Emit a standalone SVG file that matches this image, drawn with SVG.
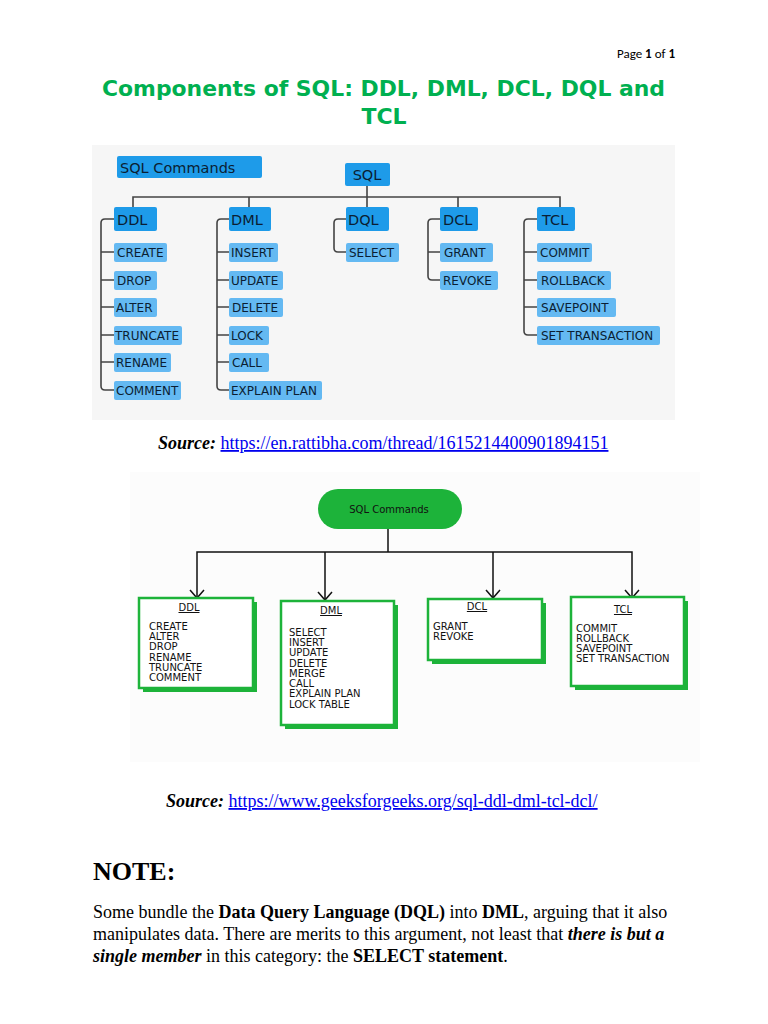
<svg xmlns="http://www.w3.org/2000/svg" width="768" height="1024" viewBox="0 0 768 1024">
<style>
.t{font-family:"DejaVu Sans",sans-serif;font-weight:bold;fill:#00b050;font-size:22px}
.ser{font-family:"Liberation Serif",serif;font-size:18px;fill:#000}
.lk{fill:#0000ee;text-decoration:underline}
.pb{fill:#1e9be9}
.cb{fill:#64b9f2}
.lb{font-family:"DejaVu Sans",sans-serif;font-size:12px;fill:#0b1e33}
.hb{font-family:"DejaVu Sans",sans-serif;font-size:14.5px;fill:#0b1e33}
.cn{fill:none;stroke:#444;stroke-width:1.6}
.gb{fill:#fff;stroke:#1db33a;stroke-width:2.5}
.gs{fill:#1db33a}
.gt{font-family:"DejaVu Sans",sans-serif;font-size:10px;fill:#111}
.ar{fill:none;stroke:#111;stroke-width:1.5}
</style>
<rect width="768" height="1024" fill="#fff"/>
<text x="675" y="58" text-anchor="end" font-family="Carlito,'Liberation Sans',sans-serif" font-size="13">Page <tspan font-weight="bold">1</tspan> of <tspan font-weight="bold">1</tspan></text>
<text class="t" x="102" y="96" textLength="563" lengthAdjust="spacingAndGlyphs">Components of SQL: DDL, DML, DCL, DQL and</text>
<text class="t" x="384" y="124" text-anchor="middle">TCL</text>

<rect x="92" y="145" width="583" height="275" fill="#f6f6f6"/>
<g id="conn1">
<path class="cn" d="M367 186V207M133 207V197H560V207M249 197V207M458 197V207"/>
<path class="cn" d="M114 219H105Q101 219 101 223V386Q101 390 105 390H114M101 252H114M101 280H114M101 307H114M101 335H114M101 362H114"/>
<path class="cn" d="M229 219H221Q217 219 217 223V386Q217 390 221 390H229M217 252H229M217 280H229M217 307H229M217 335H229M217 362H229"/>
<path class="cn" d="M346 219H338Q334 219 334 223V248Q334 252 338 252H346"/>
<path class="cn" d="M440 219H432Q428 219 428 223V276Q428 280 432 280H440M428 252H440"/>
<path class="cn" d="M537 219H528Q524 219 524 223V331Q524 335 528 335H537M524 252H537M524 280H537M524 307H537"/>
</g>
<g id="title1"><rect class="pb" x="117" y="156" width="145" height="22" rx="2"/><text class="hb" x="120" y="173" font-size="17">SQL Commands</text></g>
<g id="sql"><rect class="pb" x="345" y="163" width="45" height="23" rx="2"/><text class="hb" x="367" y="180" text-anchor="middle">SQL</text></g>
<g id="ddl"><rect class="pb" x="114" y="207" width="43" height="24" rx="2"/><text class="hb" x="117" y="225">DDL</text></g>
<g id="dml"><rect class="pb" x="229" y="207" width="42" height="24" rx="2"/><text class="hb" x="231" y="225">DML</text></g>
<g id="dql"><rect class="pb" x="346" y="207" width="43" height="24" rx="2"/><text class="hb" x="348" y="225">DQL</text></g>
<g id="dcl"><rect class="pb" x="440" y="207" width="38" height="24" rx="2"/><text class="hb" x="443" y="225">DCL</text></g>
<g id="tcl"><rect class="pb" x="537" y="207" width="38" height="24" rx="2"/><text class="hb" x="542" y="225">TCL</text></g>
<g id="ddl-items">
<rect class="cb" x="114" y="243" width="53" height="19" rx="2"/><text class="lb" x="117" y="257">CREATE</text>
<rect class="cb" x="114" y="271" width="43" height="19" rx="2"/><text class="lb" x="117" y="285">DROP</text>
<rect class="cb" x="114" y="298" width="43" height="19" rx="2"/><text class="lb" x="116" y="312">ALTER</text>
<rect class="cb" x="114" y="326" width="68" height="19" rx="2"/><text class="lb" x="115" y="340">TRUNCATE</text>
<rect class="cb" x="114" y="353" width="57" height="19" rx="2"/><text class="lb" x="116" y="367">RENAME</text>
<rect class="cb" x="114" y="381" width="67" height="19" rx="2"/><text class="lb" x="116" y="395">COMMENT</text>
</g>
<g id="dml-items">
<rect class="cb" x="229" y="243" width="49" height="19" rx="2"/><text class="lb" x="231" y="257">INSERT</text>
<rect class="cb" x="229" y="271" width="54" height="19" rx="2"/><text class="lb" x="231" y="285">UPDATE</text>
<rect class="cb" x="229" y="298" width="54" height="19" rx="2"/><text class="lb" x="232" y="312">DELETE</text>
<rect class="cb" x="229" y="326" width="40" height="19" rx="2"/><text class="lb" x="231" y="340">LOCK</text>
<rect class="cb" x="229" y="353" width="40" height="19" rx="2"/><text class="lb" x="232" y="367">CALL</text>
<rect class="cb" x="229" y="381" width="93" height="19" rx="2"/><text class="lb" x="231" y="395">EXPLAIN PLAN</text>
</g>
<g id="dql-items"><rect class="cb" x="346" y="243" width="53" height="19" rx="2"/><text class="lb" x="349" y="257">SELECT</text></g>
<g id="dcl-items">
<rect class="cb" x="440" y="243" width="53" height="19" rx="2"/><text class="lb" x="444" y="257">GRANT</text>
<rect class="cb" x="440" y="271" width="58" height="19" rx="2"/><text class="lb" x="443" y="285">REVOKE</text>
</g>
<g id="tcl-items">
<rect class="cb" x="537" y="243" width="55" height="19" rx="2"/><text class="lb" x="540" y="257">COMMIT</text>
<rect class="cb" x="537" y="271" width="74" height="19" rx="2"/><text class="lb" x="541" y="285">ROLLBACK</text>
<rect class="cb" x="537" y="298" width="79" height="19" rx="2"/><text class="lb" x="541" y="312">SAVEPOINT</text>
<rect class="cb" x="537" y="326" width="123" height="19" rx="2"/><text class="lb" x="541" y="340">SET TRANSACTION</text>
</g>

<text class="ser" x="158" y="449"><tspan font-weight="bold" font-style="italic">Source:</tspan> <tspan class="lk">https://en.rattibha.com/thread/1615214400901894151</tspan></text>

<rect x="130" y="472" width="570" height="290" fill="#fcfcfc"/>
<g id="conn2">
<path class="ar" d="M388 529V552M197 598V552H632V598M325 552V600M493 552V598"/>
<path class="ar" d="M190 590L197 598L204 590M318 592L325 600L332 592M486 590L493 598L500 590M625 590L632 598L639 590"/>
</g>
<g id="root2"><rect x="318" y="489" width="144" height="40" rx="20" fill="#1db33a"/><text class="gt" font-size="11.5" x="389" y="513" text-anchor="middle">SQL Commands</text></g>
<g id="ddl2"><rect class="gs" x="143" y="602" width="114" height="90"/><rect class="gb" x="139" y="598" width="114" height="90"/>
<text class="gt" x="189" y="611" text-anchor="middle" font-size="11" text-decoration="underline">DDL</text>
<text class="gt" x="149" y="630">CREATE</text><text class="gt" x="149" y="640">ALTER</text><text class="gt" x="149" y="650">DROP</text><text class="gt" x="149" y="661">RENAME</text><text class="gt" x="149" y="671">TRUNCATE</text><text class="gt" x="149" y="681">COMMENT</text></g>
<g id="dml2"><rect class="gs" x="285" y="605" width="113" height="124"/><rect class="gb" x="281" y="601" width="113" height="124"/>
<text class="gt" x="331" y="614" text-anchor="middle" font-size="11" text-decoration="underline">DML</text>
<text class="gt" x="289" y="636">SELECT</text><text class="gt" x="289" y="646">INSERT</text><text class="gt" x="289" y="656">UPDATE</text><text class="gt" x="289" y="667">DELETE</text><text class="gt" x="289" y="677">MERGE</text><text class="gt" x="289" y="687">CALL</text><text class="gt" x="289" y="697">EXPLAIN PLAN</text><text class="gt" x="289" y="708">LOCK TABLE</text></g>
<g id="dcl2"><rect class="gs" x="432" y="603" width="114" height="61"/><rect class="gb" x="428" y="599" width="114" height="61"/>
<text class="gt" x="477" y="610" text-anchor="middle" font-size="11" text-decoration="underline">DCL</text>
<text class="gt" x="433" y="630">GRANT</text><text class="gt" x="433" y="640">REVOKE</text></g>
<g id="tcl2"><rect class="gs" x="575" y="601" width="113" height="89"/><rect class="gb" x="571" y="597" width="113" height="89"/>
<text class="gt" x="623" y="613" text-anchor="middle" font-size="11" text-decoration="underline">TCL</text>
<text class="gt" x="576" y="632">COMMIT</text><text class="gt" x="576" y="642">ROLLBACK</text><text class="gt" x="576" y="652">SAVEPOINT</text><text class="gt" x="576" y="662">SET TRANSACTION</text></g>

<text class="ser" x="166" y="807"><tspan font-weight="bold" font-style="italic">Source:</tspan> <tspan class="lk">https://www.geeksforgeeks.org/sql-ddl-dml-tcl-dcl/</tspan></text>
<text x="93" y="880" font-family="Liberation Serif,serif" font-size="26" font-weight="bold">NOTE:</text>
<text class="ser" x="93" y="918">Some bundle the <tspan font-weight="bold">Data Query Language (DQL)</tspan> into <tspan font-weight="bold">DML</tspan>, arguing that it also</text>
<text class="ser" x="93" y="940">manipulates data. There are merits to this argument, not least that <tspan font-weight="bold" font-style="italic">there is but a</tspan></text>
<text class="ser" x="93" y="962"><tspan font-weight="bold" font-style="italic">single member</tspan> in this category: the <tspan font-weight="bold">SELECT statement</tspan>.</text>
</svg>
